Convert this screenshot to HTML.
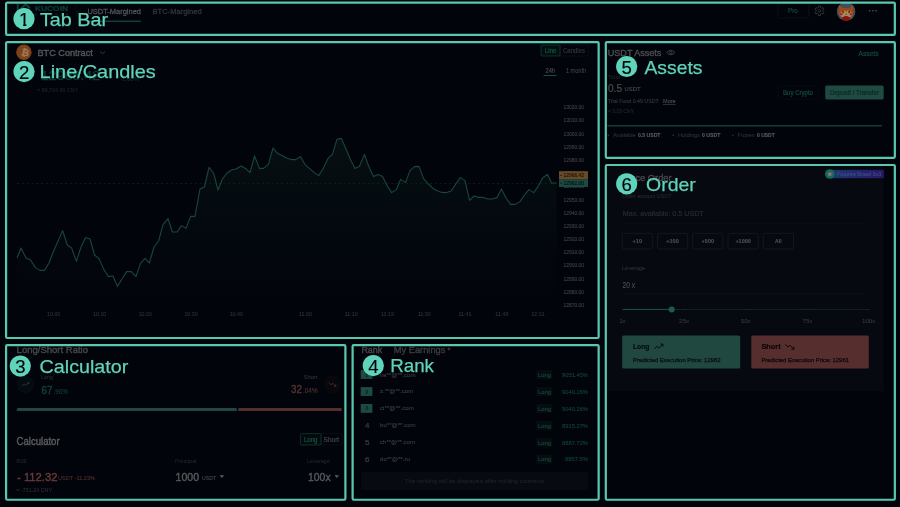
<!DOCTYPE html>
<html lang="en"><head><meta charset="utf-8"><title>KuCoin Futures Lite Guide</title>
<style>
html,body{margin:0;padding:0;background:#02040b;}
body{width:900px;height:507px;overflow:hidden;}
svg{display:block;font-family:"Liberation Sans", sans-serif;}
</style></head><body>
<svg width="900" height="507" viewBox="0 0 900 507">
<rect x="0" y="0" width="900" height="507" fill="#02040b"/>
<defs><filter id="soft" color-interpolation-filters="sRGB" x="-2%" y="-2%" width="104%" height="104%"><feGaussianBlur stdDeviation="0.4"/></filter><filter id="soft3" color-interpolation-filters="sRGB" x="-2%" y="-10%" width="104%" height="120%"><feGaussianBlur stdDeviation="0.35"/></filter><filter id="soft2" color-interpolation-filters="sRGB" x="0" y="0" width="100%" height="100%"><feGaussianBlur stdDeviation="0.5"/></filter></defs>
<g filter="url(#soft2)">
<g fill="none" stroke="#0d4038" stroke-width="1.9"><path d="M17.7 4 V13"/><path d="M21.3 8.3 L25.6 4.2 L29.9 8.3"/><path d="M21.3 9.3 L25.6 13.4 L29.9 9.3"/></g>
<text x="35.0" y="10.5" font-size="7.4" fill="#0d4038" font-weight="bold" textLength="33.0" lengthAdjust="spacingAndGlyphs" stroke="#0d4038" stroke-width="0.2">KUCOIN</text>
<text x="35" y="16" font-size="3.8" fill="#0a2e29" font-weight="bold" textLength="33" lengthAdjust="spacing">FUTURES</text>
<rect x="76" y="5" width="0.6" height="12" fill="#0c0f16"/>
<text x="87.4" y="13.7" font-size="7.4" fill="#50535a" font-weight="normal" textLength="53.6" lengthAdjust="spacingAndGlyphs" stroke="#50535a" stroke-width="0.3">USDT-Margined</text>
<text x="152.6" y="13.7" font-size="7.4" fill="#30333a" font-weight="normal" textLength="49.0" lengthAdjust="spacingAndGlyphs" stroke="#30333a" stroke-width="0.3">BTC-Margined</text>
<rect x="87" y="20.7" width="54" height="1" fill="#1b5e50"/>
<rect x="778" y="3" width="30.7" height="15" rx="1.5" fill="none" stroke="#0c151a" stroke-width="0.8"/>
<text x="788.0" y="13.4" font-size="6.4" fill="#145045" font-weight="normal" textLength="9.7" lengthAdjust="spacingAndGlyphs" stroke="#145045" stroke-width="0.14">Pro</text>
<g transform="translate(819.5 10.8)" fill="none" stroke="#323234" stroke-width="1" stroke-linejoin="round"><path d="M-1.18 -3.08 L-0.92 -4.71 L0.92 -4.71 L1.18 -3.08 L2.08 -2.56 L3.62 -3.15 L4.54 -1.56 L3.26 -0.52 L3.26 0.52 L4.54 1.56 L3.62 3.15 L2.08 2.56 L1.18 3.08 L0.92 4.71 L-0.92 4.71 L-1.18 3.08 L-2.08 2.56 L-3.62 3.15 L-4.54 1.56 L-3.26 0.52 L-3.26 -0.52 L-4.54 -1.56 L-3.62 -3.15 L-2.08 -2.56Z"/><circle r="1.2"/></g>
<g transform="translate(846.1 11.5)">
<clipPath id="av"><circle r="9.5"/></clipPath>
<g clip-path="url(#av)">
<circle r="9.5" fill="#3f4e5a"/>
<path d="M-7.2 -6.8 L-3.2 -3.4 L3.2 -3.4 L7.2 -6.8 L7.4 1 L5.5 6 L-5.5 6 L-7.4 1Z" fill="#a04716"/>
<ellipse cx="0" cy="2.6" rx="6.6" ry="3.6" fill="#a8895c"/>
<path d="M-2 -3 L0 0.5 L2 -3Z" fill="#a04716"/>
<circle cx="-3.1" cy="0.6" r="1" fill="#4a2420"/><circle cx="3.1" cy="0.6" r="1" fill="#4a2420"/>
<circle cx="-5" cy="2.7" r="1.4" fill="#a82a22"/><circle cx="5" cy="2.7" r="1.4" fill="#a82a22"/>
<ellipse cx="0" cy="2.6" rx="0.8" ry="0.6" fill="#5a4030"/>
<ellipse cx="0" cy="8" rx="4" ry="3.6" fill="#8c1212"/>
</g></g>
<circle cx="869.7" cy="10.8" r="0.8" fill="#5c5c5e"/>
<circle cx="872.9" cy="10.8" r="0.8" fill="#5c5c5e"/>
<circle cx="876.1" cy="10.8" r="0.8" fill="#5c5c5e"/>
<defs><linearGradient id="cg" x1="0" y1="0" x2="0" y2="1"><stop offset="0" stop-color="#091517"/><stop offset="1" stop-color="#02040b"/></linearGradient></defs>
<polygon points="17.0,258.0 21.0,248.0 26.0,258.0 30.6,260.0 35.4,267.6 40.0,270.4 44.4,270.4 49.0,263.0 53.6,251.0 58.1,241.0 62.6,230.6 67.4,245.0 71.6,248.0 76.4,261.4 81.0,247.0 85.6,237.4 90.0,239.0 94.6,255.0 99.0,258.6 103.6,269.0 108.4,276.6 113.0,276.0 117.4,286.4 122.0,279.0 126.6,271.6 131.2,271.6 136.0,276.6 140.4,263.6 145.0,258.4 149.4,263.0 154.0,247.0 158.6,241.0 163.0,224.6 168.0,218.6 172.4,232.0 177.0,232.0 181.4,225.6 186.0,228.4 190.6,216.4 195.0,216.4 200.0,189.0 204.4,187.0 209.0,167.4 213.6,173.0 218.0,190.0 222.4,179.0 227.0,173.0 231.6,170.0 236.0,169.0 241.0,166.0 245.6,168.4 250.0,172.6 254.6,156.0 259.4,168.4 263.6,168.4 268.4,164.4 273.0,148.0 277.6,153.4 282.0,155.4 286.6,158.0 291.2,159.6 295.6,159.6 300.4,156.6 305.0,164.6 309.4,168.4 314.0,172.4 318.6,175.6 323.0,169.0 328.0,158.4 332.4,154.4 337.0,139.4 341.4,138.4 346.0,149.0 350.6,160.0 355.0,168.4 359.6,166.0 364.4,154.4 369.0,167.0 373.4,176.6 378.0,174.4 382.6,176.6 387.0,185.4 391.6,192.6 396.4,189.6 400.6,179.4 405.6,182.4 410.0,170.6 414.6,166.6 419.0,166.4 423.6,178.6 428.4,184.0 433.0,188.4 437.6,191.0 442.0,192.4 446.6,192.6 451.2,191.0 455.6,184.4 460.4,177.6 465.0,180.6 469.6,200.4 474.0,196.0 478.6,197.4 483.0,197.4 488.0,199.0 492.4,199.0 497.0,197.6 501.4,189.0 506.0,198.0 510.6,204.4 515.4,204.4 520.0,201.6 524.4,195.0 529.0,189.6 533.6,192.6 538.0,186.6 542.6,178.0 547.4,174.4 551.6,183.0 556.6,183.0 556.6,300 17,300" fill="url(#cg)" opacity="0.68"/>
<line x1="17" y1="183.4" x2="557" y2="183.4" stroke="#0d2824" stroke-width="0.7" stroke-dasharray="2.2 2.6"/>
<polyline points="17.0,258.0 21.0,248.0 26.0,258.0 30.6,260.0 35.4,267.6 40.0,270.4 44.4,270.4 49.0,263.0 53.6,251.0 58.1,241.0 62.6,230.6 67.4,245.0 71.6,248.0 76.4,261.4 81.0,247.0 85.6,237.4 90.0,239.0 94.6,255.0 99.0,258.6 103.6,269.0 108.4,276.6 113.0,276.0 117.4,286.4 122.0,279.0 126.6,271.6 131.2,271.6 136.0,276.6 140.4,263.6 145.0,258.4 149.4,263.0 154.0,247.0 158.6,241.0 163.0,224.6 168.0,218.6 172.4,232.0 177.0,232.0 181.4,225.6 186.0,228.4 190.6,216.4 195.0,216.4 200.0,189.0 204.4,187.0 209.0,167.4 213.6,173.0 218.0,190.0 222.4,179.0 227.0,173.0 231.6,170.0 236.0,169.0 241.0,166.0 245.6,168.4 250.0,172.6 254.6,156.0 259.4,168.4 263.6,168.4 268.4,164.4 273.0,148.0 277.6,153.4 282.0,155.4 286.6,158.0 291.2,159.6 295.6,159.6 300.4,156.6 305.0,164.6 309.4,168.4 314.0,172.4 318.6,175.6 323.0,169.0 328.0,158.4 332.4,154.4 337.0,139.4 341.4,138.4 346.0,149.0 350.6,160.0 355.0,168.4 359.6,166.0 364.4,154.4 369.0,167.0 373.4,176.6 378.0,174.4 382.6,176.6 387.0,185.4 391.6,192.6 396.4,189.6 400.6,179.4 405.6,182.4 410.0,170.6 414.6,166.6 419.0,166.4 423.6,178.6 428.4,184.0 433.0,188.4 437.6,191.0 442.0,192.4 446.6,192.6 451.2,191.0 455.6,184.4 460.4,177.6 465.0,180.6 469.6,200.4 474.0,196.0 478.6,197.4 483.0,197.4 488.0,199.0 492.4,199.0 497.0,197.6 501.4,189.0 506.0,198.0 510.6,204.4 515.4,204.4 520.0,201.6 524.4,195.0 529.0,189.6 533.6,192.6 538.0,186.6 542.6,178.0 547.4,174.4 551.6,183.0 556.6,183.0" fill="none" stroke="#1a463d" stroke-width="1.1" stroke-linejoin="round"/>
<circle cx="23.9" cy="52.3" r="7.7" fill="#7c4218"/>
<text x="21.4" y="55.7" font-size="9.5" fill="#a07a5a" font-weight="bold" transform="rotate(12 23.9 52.3)" stroke="#a07a5a" stroke-width="0.21">₿</text>
<text x="37.5" y="55.7" font-size="9.4" fill="#565658" font-weight="normal" textLength="55.3" lengthAdjust="spacingAndGlyphs" stroke="#565658" stroke-width="0.4">BTC Contract</text>
<path d="M99.8 51.4 l2.6 2.4 2.6 -2.4" fill="none" stroke="#3c3c3e" stroke-width="0.9"/>
<text x="40.7" y="80.1" font-size="13.5" fill="#0d3b34" font-weight="normal" textLength="59.3" lengthAdjust="spacingAndGlyphs" stroke="#0d3b34" stroke-width="0.3">12966.42</text>
<text x="120.0" y="80.5" font-size="6.2" fill="#102e2a" font-weight="normal" textLength="19.0" lengthAdjust="spacingAndGlyphs" stroke="#102e2a" stroke-width="0.14">-1.00%</text>
<text x="37.3" y="92.0" font-size="5.6" fill="#232325" font-weight="normal" textLength="40.7" lengthAdjust="spacingAndGlyphs" stroke="#232325" stroke-width="0.12">≈ 86,724.96 CNY</text>
<rect x="560" y="45" width="28" height="11" rx="1" fill="none" stroke="#0c1017" stroke-width="0.8"/>
<rect x="541" y="45" width="19" height="11" rx="1" fill="#04100f" stroke="#103a33" stroke-width="0.8"/>
<text x="545.0" y="53.2" font-size="6.6" fill="#155a4d" font-weight="normal" textLength="11.3" lengthAdjust="spacingAndGlyphs" stroke="#155a4d" stroke-width="0.15">Line</text>
<text x="563.0" y="53.2" font-size="6.6" fill="#363638" font-weight="normal" textLength="22.0" lengthAdjust="spacingAndGlyphs" stroke="#363638" stroke-width="0.15">Candles</text>
<text x="545.5" y="73.4" font-size="6.6" fill="#4c4c4e" font-weight="normal" textLength="9.5" lengthAdjust="spacingAndGlyphs" stroke="#4c4c4e" stroke-width="0.15">24h</text>
<text x="566.0" y="73.4" font-size="6.6" fill="#3e3e40" font-weight="normal" textLength="20.0" lengthAdjust="spacingAndGlyphs" stroke="#3e3e40" stroke-width="0.15">1 month</text>
<rect x="543.5" y="75" width="13" height="1" fill="#155045"/>
<text x="563.6" y="109.1" font-size="5.4" fill="#404042" font-weight="normal" textLength="20.4" lengthAdjust="spacingAndGlyphs" stroke="#404042" stroke-width="0.12">13020.00</text>
<text x="563.6" y="122.3" font-size="5.4" fill="#404042" font-weight="normal" textLength="20.4" lengthAdjust="spacingAndGlyphs" stroke="#404042" stroke-width="0.12">13010.00</text>
<text x="563.6" y="135.5" font-size="5.4" fill="#404042" font-weight="normal" textLength="20.4" lengthAdjust="spacingAndGlyphs" stroke="#404042" stroke-width="0.12">13000.00</text>
<text x="563.6" y="148.7" font-size="5.4" fill="#404042" font-weight="normal" textLength="20.4" lengthAdjust="spacingAndGlyphs" stroke="#404042" stroke-width="0.12">12990.00</text>
<text x="563.6" y="161.9" font-size="5.4" fill="#404042" font-weight="normal" textLength="20.4" lengthAdjust="spacingAndGlyphs" stroke="#404042" stroke-width="0.12">12980.00</text>
<text x="563.6" y="175.1" font-size="5.4" fill="#404042" font-weight="normal" textLength="20.4" lengthAdjust="spacingAndGlyphs" stroke="#404042" stroke-width="0.12">12970.00</text>
<text x="563.6" y="188.3" font-size="5.4" fill="#404042" font-weight="normal" textLength="20.4" lengthAdjust="spacingAndGlyphs" stroke="#404042" stroke-width="0.12">12960.00</text>
<text x="563.6" y="201.5" font-size="5.4" fill="#404042" font-weight="normal" textLength="20.4" lengthAdjust="spacingAndGlyphs" stroke="#404042" stroke-width="0.12">12950.00</text>
<text x="563.6" y="214.7" font-size="5.4" fill="#404042" font-weight="normal" textLength="20.4" lengthAdjust="spacingAndGlyphs" stroke="#404042" stroke-width="0.12">12940.00</text>
<text x="563.6" y="227.9" font-size="5.4" fill="#404042" font-weight="normal" textLength="20.4" lengthAdjust="spacingAndGlyphs" stroke="#404042" stroke-width="0.12">12930.00</text>
<text x="563.6" y="241.0" font-size="5.4" fill="#404042" font-weight="normal" textLength="20.4" lengthAdjust="spacingAndGlyphs" stroke="#404042" stroke-width="0.12">12920.00</text>
<text x="563.6" y="254.2" font-size="5.4" fill="#404042" font-weight="normal" textLength="20.4" lengthAdjust="spacingAndGlyphs" stroke="#404042" stroke-width="0.12">12910.00</text>
<text x="563.6" y="267.4" font-size="5.4" fill="#404042" font-weight="normal" textLength="20.4" lengthAdjust="spacingAndGlyphs" stroke="#404042" stroke-width="0.12">12900.00</text>
<text x="563.6" y="280.6" font-size="5.4" fill="#404042" font-weight="normal" textLength="20.4" lengthAdjust="spacingAndGlyphs" stroke="#404042" stroke-width="0.12">12890.00</text>
<text x="563.6" y="293.8" font-size="5.4" fill="#404042" font-weight="normal" textLength="20.4" lengthAdjust="spacingAndGlyphs" stroke="#404042" stroke-width="0.12">12880.00</text>
<text x="563.6" y="307.0" font-size="5.4" fill="#404042" font-weight="normal" textLength="20.4" lengthAdjust="spacingAndGlyphs" stroke="#404042" stroke-width="0.12">12870.00</text>
<rect x="559" y="171.2" width="29" height="7.9" fill="#6a4a26"/>
<rect x="559" y="179.1" width="29" height="7.9" fill="#1c4a42"/>
<text x="563.5" y="177.1" font-size="5.4" fill="#1a120a" font-weight="normal" textLength="20.5" lengthAdjust="spacingAndGlyphs" stroke="#1a120a" stroke-width="0.12">12966.42</text>
<text x="563.5" y="185.0" font-size="5.4" fill="#06120f" font-weight="normal" textLength="20.5" lengthAdjust="spacingAndGlyphs" stroke="#06120f" stroke-width="0.12">12962.00</text>
<rect x="560" y="174.9" width="2" height="0.7" fill="#1a120a"/><rect x="560" y="182.8" width="2" height="0.7" fill="#06120f"/>
<text x="47.1" y="316.3" font-size="5.2" fill="#303032" font-weight="normal" textLength="13.2" lengthAdjust="spacingAndGlyphs" stroke="#303032" stroke-width="0.11">10:00</text>
<text x="93.1" y="316.3" font-size="5.2" fill="#303032" font-weight="normal" textLength="13.2" lengthAdjust="spacingAndGlyphs" stroke="#303032" stroke-width="0.11">10:10</text>
<text x="138.7" y="316.3" font-size="5.2" fill="#303032" font-weight="normal" textLength="13.2" lengthAdjust="spacingAndGlyphs" stroke="#303032" stroke-width="0.11">10:20</text>
<text x="184.4" y="316.3" font-size="5.2" fill="#303032" font-weight="normal" textLength="13.2" lengthAdjust="spacingAndGlyphs" stroke="#303032" stroke-width="0.11">10:30</text>
<text x="229.7" y="316.3" font-size="5.2" fill="#303032" font-weight="normal" textLength="13.2" lengthAdjust="spacingAndGlyphs" stroke="#303032" stroke-width="0.11">10:40</text>
<text x="298.9" y="316.3" font-size="5.2" fill="#303032" font-weight="normal" textLength="13.2" lengthAdjust="spacingAndGlyphs" stroke="#303032" stroke-width="0.11">11:00</text>
<text x="344.7" y="316.3" font-size="5.2" fill="#303032" font-weight="normal" textLength="13.2" lengthAdjust="spacingAndGlyphs" stroke="#303032" stroke-width="0.11">11:10</text>
<text x="380.9" y="316.3" font-size="5.2" fill="#303032" font-weight="normal" textLength="13.2" lengthAdjust="spacingAndGlyphs" stroke="#303032" stroke-width="0.11">11:19</text>
<text x="417.7" y="316.3" font-size="5.2" fill="#303032" font-weight="normal" textLength="13.2" lengthAdjust="spacingAndGlyphs" stroke="#303032" stroke-width="0.11">11:30</text>
<text x="458.4" y="316.3" font-size="5.2" fill="#303032" font-weight="normal" textLength="13.2" lengthAdjust="spacingAndGlyphs" stroke="#303032" stroke-width="0.11">11:41</text>
<text x="495.3" y="316.3" font-size="5.2" fill="#303032" font-weight="normal" textLength="13.2" lengthAdjust="spacingAndGlyphs" stroke="#303032" stroke-width="0.11">11:49</text>
<text x="531.4" y="316.3" font-size="5.2" fill="#303032" font-weight="normal" textLength="13.2" lengthAdjust="spacingAndGlyphs" stroke="#303032" stroke-width="0.11">12:01</text>
<text x="607.8" y="55.5" font-size="8.6" fill="#4e4e50" font-weight="normal" textLength="53.6" lengthAdjust="spacingAndGlyphs" stroke="#4e4e50" stroke-width="0.35">USDT Assets</text>
<g fill="none" stroke="#474749" stroke-width="0.8"><path d="M666.7 52.5 q4.15 -4.6 8.3 0 q-4.15 4.6 -8.3 0z"/><circle cx="670.85" cy="52.5" r="1.3"/></g>
<text x="858.4" y="56.2" font-size="6.6" fill="#145045" font-weight="normal" textLength="20.2" lengthAdjust="spacingAndGlyphs" stroke="#145045" stroke-width="0.15">Assets</text>
<text x="608.0" y="78.6" font-size="5.8" fill="#202022" font-weight="normal" textLength="12.0" lengthAdjust="spacingAndGlyphs" stroke="#202022" stroke-width="0.13">Total</text>
<text x="608.0" y="91.6" font-size="11" fill="#4a4a4c" font-weight="normal" textLength="14.0" lengthAdjust="spacingAndGlyphs" stroke="#4a4a4c" stroke-width="0.24">0.5</text>
<text x="624.5" y="91.2" font-size="6.2" fill="#4a4a4c" font-weight="normal" textLength="16.0" lengthAdjust="spacingAndGlyphs" stroke="#4a4a4c" stroke-width="0.14">USDT</text>
<text x="607.7" y="103.4" font-size="6" fill="#373739" font-weight="normal" textLength="51.0" lengthAdjust="spacingAndGlyphs" stroke="#373739" stroke-width="0.13">Trial Fund 0.49 USDT</text>
<text x="663.0" y="103.4" font-size="6" fill="#4c4c4e" font-weight="normal" textLength="12.7" lengthAdjust="spacingAndGlyphs" stroke="#4c4c4e" stroke-width="0.13">More</text>
<rect x="663" y="104" width="12.7" height="0.6" fill="#4c4c4e"/>
<text x="608.0" y="113.4" font-size="5.8" fill="#262628" font-weight="normal" textLength="26.0" lengthAdjust="spacingAndGlyphs" stroke="#262628" stroke-width="0.13">≈ 3.33 CNY</text>
<rect x="778.2" y="85.8" width="39.6" height="13.4" rx="1.5" fill="none" stroke="#090d13" stroke-width="0.8"/>
<text x="783.0" y="95.0" font-size="6.4" fill="#175246" font-weight="normal" textLength="30.0" lengthAdjust="spacingAndGlyphs" stroke="#175246" stroke-width="0.14">Buy Crypto</text>
<rect x="825.2" y="85.4" width="58.5" height="14" rx="1.5" fill="#1e4a42"/>
<text x="830.0" y="95.0" font-size="6.4" fill="#0c2622" font-weight="normal" textLength="49.0" lengthAdjust="spacingAndGlyphs" stroke="#0c2622" stroke-width="0.14">Deposit / Transfer</text>
<rect x="607.5" y="125.1" width="274.5" height="1.4" fill="#173f38"/>
<circle cx="608.3" cy="135.3" r="0.7" fill="#1f4a42"/>
<text x="613.0" y="137.4" font-size="5.8" fill="#2e2e30" font-weight="normal" textLength="22.5" lengthAdjust="spacingAndGlyphs" stroke="#2e2e30" stroke-width="0.13">Available</text>
<text x="638.0" y="137.4" font-size="5.8" fill="#5c5c5e" font-weight="bold" textLength="22.5" lengthAdjust="spacingAndGlyphs" stroke="#5c5c5e" stroke-width="0.13">0.5 USDT</text>
<circle cx="673.3" cy="135.3" r="0.7" fill="#6a302c"/>
<text x="678.0" y="137.4" font-size="5.8" fill="#2e2e30" font-weight="normal" textLength="22.0" lengthAdjust="spacingAndGlyphs" stroke="#2e2e30" stroke-width="0.13">Holdings</text>
<text x="702.0" y="137.4" font-size="5.8" fill="#5c5c5e" font-weight="bold" textLength="18.3" lengthAdjust="spacingAndGlyphs" stroke="#5c5c5e" stroke-width="0.13">0 USDT</text>
<circle cx="732.8" cy="135.3" r="0.7" fill="#3c3c3e"/>
<text x="737.5" y="137.4" font-size="5.8" fill="#2e2e30" font-weight="normal" textLength="17.0" lengthAdjust="spacingAndGlyphs" stroke="#2e2e30" stroke-width="0.13">Frozen</text>
<text x="757.0" y="137.4" font-size="5.8" fill="#5c5c5e" font-weight="bold" textLength="17.8" lengthAdjust="spacingAndGlyphs" stroke="#5c5c5e" stroke-width="0.13">0 USDT</text>
<rect x="606" y="165" width="277.8" height="226.3" fill="#070911"/>
<text x="622.0" y="180.7" font-size="9.2" fill="#48484a" font-weight="normal" textLength="49.6" lengthAdjust="spacingAndGlyphs" stroke="#48484a" stroke-width="0.35">Place Order</text>
<defs><linearGradient id="bg2" x1="0" y1="0" x2="1" y2="0"><stop offset="0" stop-color="#1b3a6c"/><stop offset="1" stop-color="#2a1766"/></linearGradient></defs>
<rect x="829" y="169.9" width="54.8" height="8.3" fill="url(#bg2)"/>
<circle cx="829.8" cy="174" r="4.8" fill="#156a56"/>
<path d="M829.8 171.3 l0.8 1.7 1.9 0.2 -1.4 1.3 0.4 1.9 -1.7 -1 -1.7 1 0.4 -1.9 -1.4 -1.3 1.9 -0.2z" fill="#907078"/>
<text x="837.0" y="176.3" font-size="6.2" fill="#3c4c8c" font-weight="normal" textLength="44.3" lengthAdjust="spacingAndGlyphs" stroke="#3c4c8c" stroke-width="0.14">Futures Brawl 3v3</text>
<text x="622.0" y="198.3" font-size="5.6" fill="#28282a" font-weight="normal" textLength="49.5" lengthAdjust="spacingAndGlyphs" stroke="#28282a" stroke-width="0.12">Order amount USDT</text>
<text x="622.8" y="215.9" font-size="8" fill="#2c2c2e" font-weight="normal" textLength="80.9" lengthAdjust="spacingAndGlyphs" stroke="#2c2c2e" stroke-width="0.18">Max. available: 0.5 USDT</text>
<rect x="622" y="223.6" width="247" height="0.6" fill="#0f1219"/>
<rect x="622.2" y="233.4" width="30.2" height="15.6" rx="1.5" fill="none" stroke="#161a21" stroke-width="0.8"/>
<text x="632.6" y="243.2" font-size="5.4" fill="#505052" font-weight="bold" textLength="9.5" lengthAdjust="spacingAndGlyphs" stroke="#505052" stroke-width="0.12">+10</text>
<rect x="657.5" y="233.4" width="30.2" height="15.6" rx="1.5" fill="none" stroke="#161a21" stroke-width="0.8"/>
<text x="666.3" y="243.2" font-size="5.4" fill="#505052" font-weight="bold" textLength="12.5" lengthAdjust="spacingAndGlyphs" stroke="#505052" stroke-width="0.12">+100</text>
<rect x="692.7" y="233.4" width="30.2" height="15.6" rx="1.5" fill="none" stroke="#161a21" stroke-width="0.8"/>
<text x="701.6" y="243.2" font-size="5.4" fill="#505052" font-weight="bold" textLength="12.5" lengthAdjust="spacingAndGlyphs" stroke="#505052" stroke-width="0.12">+500</text>
<rect x="728.0" y="233.4" width="30.2" height="15.6" rx="1.5" fill="none" stroke="#161a21" stroke-width="0.8"/>
<text x="735.4" y="243.2" font-size="5.4" fill="#505052" font-weight="bold" textLength="15.5" lengthAdjust="spacingAndGlyphs" stroke="#505052" stroke-width="0.12">+1000</text>
<rect x="763.3" y="233.4" width="30.2" height="15.6" rx="1.5" fill="none" stroke="#161a21" stroke-width="0.8"/>
<text x="775.1" y="243.2" font-size="5.4" fill="#505052" font-weight="bold" textLength="6.5" lengthAdjust="spacingAndGlyphs" stroke="#505052" stroke-width="0.12">All</text>
<text x="622.0" y="269.8" font-size="5.8" fill="#2c2c2e" font-weight="normal" textLength="23.2" lengthAdjust="spacingAndGlyphs" stroke="#2c2c2e" stroke-width="0.13">Leverage</text>
<text x="622.4" y="287.6" font-size="8.2" fill="#48484a" font-weight="normal" textLength="12.8" lengthAdjust="spacingAndGlyphs" stroke="#48484a" stroke-width="0.18">20 x</text>
<rect x="622" y="293.6" width="247" height="0.6" fill="#0f1219"/>
<rect x="622.7" y="309" width="247.2" height="0.8" fill="#0f2a26"/>
<rect x="622.7" y="308.9" width="49" height="1" fill="#1c5246"/>
<circle cx="684.5" cy="309.4" r="0.7" fill="#14362f"/>
<circle cx="746.3" cy="309.4" r="0.7" fill="#14362f"/>
<circle cx="808.1" cy="309.4" r="0.7" fill="#14362f"/>
<circle cx="671.7" cy="309.4" r="3" fill="#1f5a4d"/>
<text x="619.4" y="322.6" font-size="6" fill="#363638" font-weight="normal" textLength="6.1" lengthAdjust="spacingAndGlyphs" stroke="#363638" stroke-width="0.13">1x</text>
<text x="679.0" y="322.6" font-size="6" fill="#363638" font-weight="normal" textLength="10.0" lengthAdjust="spacingAndGlyphs" stroke="#363638" stroke-width="0.13">25x</text>
<text x="740.8" y="322.6" font-size="6" fill="#363638" font-weight="normal" textLength="9.8" lengthAdjust="spacingAndGlyphs" stroke="#363638" stroke-width="0.13">50x</text>
<text x="802.6" y="322.6" font-size="6" fill="#363638" font-weight="normal" textLength="9.6" lengthAdjust="spacingAndGlyphs" stroke="#363638" stroke-width="0.13">75x</text>
<text x="862.0" y="322.6" font-size="6" fill="#363638" font-weight="normal" textLength="13.4" lengthAdjust="spacingAndGlyphs" stroke="#363638" stroke-width="0.13">100x</text>
<rect x="622.2" y="335.5" width="118" height="32.9" rx="1.5" fill="#204840"/>
<rect x="751.3" y="335.5" width="117.5" height="32.9" rx="1.5" fill="#562e2e"/>
<text x="633.0" y="349.1" font-size="8" fill="#050b10" font-weight="bold" textLength="16.4" lengthAdjust="spacingAndGlyphs" stroke="#050b10" stroke-width="0.18">Long</text>
<path d="M654.3 349 l2.6 -2.8 2 1.9 3.8 -3.8 M660.3 344.1 h2.6 v2.6" fill="none" stroke="#050b10" stroke-width="1"/>
<text x="633.0" y="361.8" font-size="5.8" fill="#07110f" font-weight="normal" textLength="87.6" lengthAdjust="spacingAndGlyphs" stroke="#07110f" stroke-width="0.25">Predicted Execution Price: 12962</text>
<text x="761.4" y="349.1" font-size="8" fill="#0c0608" font-weight="bold" textLength="19.2" lengthAdjust="spacingAndGlyphs" stroke="#0c0608" stroke-width="0.18">Short</text>
<path d="M785.3 344.3 l2.6 2.8 2 -1.9 3.8 3.8 M791.3 349.2 h2.6 v-2.6" fill="none" stroke="#0c0608" stroke-width="1"/>
<text x="761.4" y="361.8" font-size="5.8" fill="#120809" font-weight="normal" textLength="87.6" lengthAdjust="spacingAndGlyphs" stroke="#120809" stroke-width="0.25">Predicted Execution Price: 12961</text>
<text x="16.6" y="353.1" font-size="8.6" fill="#48484a" font-weight="normal" textLength="71.4" lengthAdjust="spacingAndGlyphs" stroke="#48484a" stroke-width="0.35">Long/Short Ratio</text>
<circle cx="25.6" cy="384.4" r="9" fill="#060b10"/>
<path d="M21.8 386.3 l2.2 -2.4 1.7 1.6 3 -3 M27.2 382.4 h1.7 v1.7" fill="none" stroke="#16463d" stroke-width="0.8"/>
<text x="41.0" y="379.4" font-size="5.6" fill="#28282a" font-weight="normal" textLength="12.0" lengthAdjust="spacingAndGlyphs" stroke="#28282a" stroke-width="0.12">Long</text>
<text x="41.5" y="393.5" font-size="11.8" fill="#14423a" font-weight="normal" textLength="11.0" lengthAdjust="spacingAndGlyphs" stroke="#14423a" stroke-width="0.4">67</text>
<text x="53.6" y="393.5" font-size="6.4" fill="#123c35" font-weight="normal" textLength="14.4" lengthAdjust="spacingAndGlyphs" stroke="#123c35" stroke-width="0.14">.96%</text>
<rect x="16.6" y="408" width="220.4" height="3" rx="1.5" fill="#204840"/>
<rect x="238" y="408" width="104" height="3" rx="1.5" fill="#562e2c"/>
<text x="303.6" y="379.0" font-size="5.6" fill="#303032" font-weight="normal" textLength="14.0" lengthAdjust="spacingAndGlyphs" stroke="#303032" stroke-width="0.12">Short</text>
<text x="291.0" y="393.3" font-size="11.8" fill="#583232" font-weight="normal" textLength="11.0" lengthAdjust="spacingAndGlyphs" stroke="#583232" stroke-width="0.4">32</text>
<text x="303.0" y="393.3" font-size="6.4" fill="#52302f" font-weight="normal" textLength="14.6" lengthAdjust="spacingAndGlyphs" stroke="#52302f" stroke-width="0.14">.04%</text>
<circle cx="332.6" cy="384.4" r="9" fill="#08070c"/>
<path d="M329 382.5 l2.2 2.4 1.7 -1.6 3 3 M334.2 386.4 h1.7 v-1.7" fill="none" stroke="#5e3030" stroke-width="0.8"/>
<text x="16.6" y="444.9" font-size="10" fill="#5c5c5e" font-weight="normal" textLength="43.0" lengthAdjust="spacingAndGlyphs" stroke="#5c5c5e" stroke-width="0.4">Calculator</text>
<rect x="321" y="433.6" width="21" height="11.4" rx="1" fill="none" stroke="#0c1017" stroke-width="0.8"/>
<rect x="300.4" y="433.6" width="20.6" height="11.4" rx="1" fill="#030a0c" stroke="#103a33" stroke-width="0.8"/>
<text x="304.0" y="441.7" font-size="6.4" fill="#155a4d" font-weight="normal" textLength="13.5" lengthAdjust="spacingAndGlyphs" stroke="#155a4d" stroke-width="0.14">Long</text>
<text x="323.6" y="441.7" font-size="6.4" fill="#48484a" font-weight="normal" textLength="15.6" lengthAdjust="spacingAndGlyphs" stroke="#48484a" stroke-width="0.14">Short</text>
<text x="16.6" y="463.3" font-size="5.4" fill="#28282a" font-weight="normal" textLength="9.9" lengthAdjust="spacingAndGlyphs" stroke="#28282a" stroke-width="0.12">ROE</text>
<text x="17.0" y="480.5" font-size="11.6" fill="#683838" font-weight="normal" textLength="40.5" lengthAdjust="spacingAndGlyphs" stroke="#683838" stroke-width="0.45">- 112.32</text>
<text x="58.0" y="480.2" font-size="5.6" fill="#4e2c2c" font-weight="normal" textLength="37.0" lengthAdjust="spacingAndGlyphs" stroke="#4e2c2c" stroke-width="0.12">USDT -11.23%</text>
<text x="16.6" y="491.6" font-size="5.6" fill="#2c2c2e" font-weight="normal" textLength="35.4" lengthAdjust="spacingAndGlyphs" stroke="#2c2c2e" stroke-width="0.12">≈ -751.24 CNY</text>
<text x="175.0" y="463.3" font-size="5.4" fill="#222224" font-weight="normal" textLength="21.6" lengthAdjust="spacingAndGlyphs" stroke="#222224" stroke-width="0.12">Principal</text>
<text x="175.6" y="480.5" font-size="11.6" fill="#575759" font-weight="normal" textLength="23.4" lengthAdjust="spacingAndGlyphs" stroke="#575759" stroke-width="0.45">1000</text>
<text x="202.0" y="480.3" font-size="5.6" fill="#48484a" font-weight="normal" textLength="14.0" lengthAdjust="spacingAndGlyphs" stroke="#48484a" stroke-width="0.12">USDT</text>
<path d="M219.6 475.3 h4.6 l-2.3 2.6z" fill="#5c5c5e"/>
<text x="307.0" y="463.3" font-size="5.4" fill="#222224" font-weight="normal" textLength="23.0" lengthAdjust="spacingAndGlyphs" stroke="#222224" stroke-width="0.12">Leverage</text>
<text x="308.0" y="480.5" font-size="11.6" fill="#575759" font-weight="normal" textLength="22.6" lengthAdjust="spacingAndGlyphs" stroke="#575759" stroke-width="0.45">100x</text>
<path d="M334.5 475.3 h4.6 l-2.3 2.6z" fill="#5c5c5e"/>
<text x="361.4" y="353.1" font-size="8.6" fill="#48484a" font-weight="normal" textLength="20.9" lengthAdjust="spacingAndGlyphs" stroke="#48484a" stroke-width="0.35">Rank</text>
<text x="393.8" y="353.1" font-size="8.6" fill="#3c3c3e" font-weight="normal" textLength="51.6" lengthAdjust="spacingAndGlyphs" stroke="#3c3c3e" stroke-width="0.35">My Earnings</text>
<circle cx="449" cy="349" r="1.4" fill="#4e2628"/>
<rect x="360.7" y="370.1" width="11.7" height="8.8" fill="#1f4a42"/>
<text x="365.3" y="376.5" font-size="5.6" fill="#0c2824" font-weight="bold" stroke="#0c2824" stroke-width="0.12">1</text>
<text x="380.0" y="376.5" font-size="6" fill="#3a3a3c" font-weight="normal" textLength="35.5" lengthAdjust="spacingAndGlyphs" stroke="#3a3a3c" stroke-width="0.13">va**@**.com</text>
<rect x="536.2" y="370.0" width="16.1" height="9" fill="#050e0e"/>
<text x="537.9" y="376.7" font-size="6" fill="#17453d" font-weight="normal" textLength="13.1" lengthAdjust="spacingAndGlyphs" stroke="#17453d" stroke-width="0.13">Long</text>
<text x="562.0" y="376.7" font-size="6" fill="#12403a" font-weight="normal" textLength="26.0" lengthAdjust="spacingAndGlyphs" stroke="#12403a" stroke-width="0.13">9051.45%</text>
<rect x="360.7" y="387.1" width="11.7" height="8.8" fill="#1f4a42"/>
<text x="365.3" y="393.5" font-size="5.6" fill="#0c2824" font-weight="bold" stroke="#0c2824" stroke-width="0.12">2</text>
<text x="380.0" y="393.4" font-size="6" fill="#3a3a3c" font-weight="normal" textLength="33.2" lengthAdjust="spacingAndGlyphs" stroke="#3a3a3c" stroke-width="0.13">z.**@**.com</text>
<rect x="536.2" y="386.9" width="16.1" height="9" fill="#050e0e"/>
<text x="537.9" y="393.6" font-size="6" fill="#17453d" font-weight="normal" textLength="13.1" lengthAdjust="spacingAndGlyphs" stroke="#17453d" stroke-width="0.13">Long</text>
<text x="562.0" y="393.6" font-size="6" fill="#12403a" font-weight="normal" textLength="26.0" lengthAdjust="spacingAndGlyphs" stroke="#12403a" stroke-width="0.13">9040.26%</text>
<rect x="360.7" y="404.0" width="11.7" height="8.8" fill="#1f4a42"/>
<text x="365.3" y="410.4" font-size="5.6" fill="#0c2824" font-weight="bold" stroke="#0c2824" stroke-width="0.12">3</text>
<text x="380.0" y="410.4" font-size="6" fill="#3a3a3c" font-weight="normal" textLength="34.0" lengthAdjust="spacingAndGlyphs" stroke="#3a3a3c" stroke-width="0.13">ci**@**.com</text>
<rect x="536.2" y="403.9" width="16.1" height="9" fill="#050e0e"/>
<text x="537.9" y="410.6" font-size="6" fill="#17453d" font-weight="normal" textLength="13.1" lengthAdjust="spacingAndGlyphs" stroke="#17453d" stroke-width="0.13">Long</text>
<text x="562.0" y="410.6" font-size="6" fill="#12403a" font-weight="normal" textLength="26.0" lengthAdjust="spacingAndGlyphs" stroke="#12403a" stroke-width="0.13">9040.26%</text>
<text x="364.9" y="428.2" font-size="8" fill="#404042" font-weight="normal" stroke="#404042" stroke-width="0.18">4</text>
<text x="380.0" y="427.3" font-size="6" fill="#3a3a3c" font-weight="normal" textLength="35.7" lengthAdjust="spacingAndGlyphs" stroke="#3a3a3c" stroke-width="0.13">bu**@**.com</text>
<rect x="536.2" y="420.9" width="16.1" height="9" fill="#050e0e"/>
<text x="537.9" y="427.5" font-size="6" fill="#17453d" font-weight="normal" textLength="13.1" lengthAdjust="spacingAndGlyphs" stroke="#17453d" stroke-width="0.13">Long</text>
<text x="562.0" y="427.5" font-size="6" fill="#12403a" font-weight="normal" textLength="26.0" lengthAdjust="spacingAndGlyphs" stroke="#12403a" stroke-width="0.13">8915.27%</text>
<text x="364.9" y="445.2" font-size="8" fill="#404042" font-weight="normal" stroke="#404042" stroke-width="0.18">5</text>
<text x="380.0" y="444.3" font-size="6" fill="#3a3a3c" font-weight="normal" textLength="35.0" lengthAdjust="spacingAndGlyphs" stroke="#3a3a3c" stroke-width="0.13">ch**@**.com</text>
<rect x="536.2" y="437.8" width="16.1" height="9" fill="#050e0e"/>
<text x="537.9" y="444.5" font-size="6" fill="#17453d" font-weight="normal" textLength="13.1" lengthAdjust="spacingAndGlyphs" stroke="#17453d" stroke-width="0.13">Long</text>
<text x="562.0" y="444.5" font-size="6" fill="#12403a" font-weight="normal" textLength="26.0" lengthAdjust="spacingAndGlyphs" stroke="#12403a" stroke-width="0.13">8887.72%</text>
<text x="364.9" y="462.1" font-size="8" fill="#404042" font-weight="normal" stroke="#404042" stroke-width="0.18">6</text>
<text x="380.0" y="461.2" font-size="6" fill="#3a3a3c" font-weight="normal" textLength="30.0" lengthAdjust="spacingAndGlyphs" stroke="#3a3a3c" stroke-width="0.13">do**@**.ru</text>
<rect x="536.2" y="454.8" width="16.1" height="9" fill="#050e0e"/>
<text x="537.9" y="461.4" font-size="6" fill="#17453d" font-weight="normal" textLength="13.1" lengthAdjust="spacingAndGlyphs" stroke="#17453d" stroke-width="0.13">Long</text>
<text x="565.0" y="461.4" font-size="6" fill="#12403a" font-weight="normal" textLength="23.0" lengthAdjust="spacingAndGlyphs" stroke="#12403a" stroke-width="0.13">8857.5%</text>
<rect x="361" y="471.8" width="227.1" height="18.2" rx="1" fill="#070a11"/>
<text x="404.8" y="483.1" font-size="5.8" fill="#212122" font-weight="normal" textLength="139.4" lengthAdjust="spacingAndGlyphs" stroke="#212122" stroke-width="0.13">The ranking will be displayed after holding contracts</text>
</g>
<g filter="url(#soft)">
<rect x="6.10" y="2.65" width="888.75" height="32.25" rx="1.2" fill="none" stroke="#59c8ae" stroke-width="2.2"/>
<rect x="6.10" y="42.15" width="592.55" height="295.85" rx="1.2" fill="none" stroke="#59c8ae" stroke-width="2.2"/>
<rect x="605.80" y="42.15" width="289.05" height="115.65" rx="1.2" fill="none" stroke="#59c8ae" stroke-width="2.2"/>
<rect x="605.80" y="165.00" width="289.05" height="334.75" rx="1.2" fill="none" stroke="#59c8ae" stroke-width="2.2"/>
<rect x="6.10" y="345.10" width="339.30" height="154.65" rx="1.2" fill="none" stroke="#59c8ae" stroke-width="2.2"/>
<rect x="352.60" y="345.10" width="246.05" height="154.65" rx="1.2" fill="none" stroke="#59c8ae" stroke-width="2.2"/>
</g>
<g filter="url(#soft3)">
<clipPath id="one"><path d="M-8 -16 H8 V-1.9 H2.2 V2 H-0.9 V-1.9 H-8Z"/></clipPath>
<circle cx="24.0" cy="18.7" r="10.6" fill="#5fd4ba"/>
<g transform="translate(24.10 25.70)" clip-path="url(#one)"><text x="0" y="0" font-size="18.6" fill="#02040b" stroke="#02040b" stroke-width="0.15" text-anchor="middle">1</text></g>
<text x="39.90" y="25.60" font-size="18.6" fill="#5fd4ba" stroke="#5fd4ba" stroke-width="0.25" textLength="68.30" lengthAdjust="spacingAndGlyphs">Tab Bar</text>
<circle cx="24.05" cy="71.6" r="10.6" fill="#5fd4ba"/>
<g transform="translate(24.05 78.60)"><text x="0" y="0" font-size="18.6" fill="#02040b" stroke="#02040b" stroke-width="0.15" text-anchor="middle">2</text></g>
<text x="39.60" y="78.30" font-size="18.6" fill="#5fd4ba" stroke="#5fd4ba" stroke-width="0.25" textLength="116.10" lengthAdjust="spacingAndGlyphs">Line/Candles</text>
<circle cx="20.3" cy="366.1" r="10.6" fill="#5fd4ba"/>
<g transform="translate(20.30 373.10)"><text x="0" y="0" font-size="18.6" fill="#02040b" stroke="#02040b" stroke-width="0.15" text-anchor="middle">3</text></g>
<text x="39.50" y="373.30" font-size="18.6" fill="#5fd4ba" stroke="#5fd4ba" stroke-width="0.25" textLength="88.90" lengthAdjust="spacingAndGlyphs">Calculator</text>
<circle cx="373.3" cy="365.6" r="10.6" fill="#5fd4ba"/>
<g transform="translate(373.30 372.60)"><text x="0" y="0" font-size="18.6" fill="#02040b" stroke="#02040b" stroke-width="0.15" text-anchor="middle">4</text></g>
<text x="390.20" y="372.20" font-size="18.6" fill="#5fd4ba" stroke="#5fd4ba" stroke-width="0.25" textLength="43.80" lengthAdjust="spacingAndGlyphs">Rank</text>
<circle cx="626.7" cy="66.5" r="10.6" fill="#5fd4ba"/>
<g transform="translate(626.70 73.50)"><text x="0" y="0" font-size="18.6" fill="#02040b" stroke="#02040b" stroke-width="0.15" text-anchor="middle">5</text></g>
<text x="644.50" y="73.70" font-size="18.6" fill="#5fd4ba" stroke="#5fd4ba" stroke-width="0.25" textLength="57.90" lengthAdjust="spacingAndGlyphs">Assets</text>
<circle cx="626.7" cy="183.8" r="10.6" fill="#5fd4ba"/>
<g transform="translate(626.70 190.80)"><text x="0" y="0" font-size="18.6" fill="#02040b" stroke="#02040b" stroke-width="0.15" text-anchor="middle">6</text></g>
<text x="646.10" y="190.90" font-size="18.6" fill="#5fd4ba" stroke="#5fd4ba" stroke-width="0.25" textLength="49.70" lengthAdjust="spacingAndGlyphs">Order</text>
</g>
</svg>
</body></html>
